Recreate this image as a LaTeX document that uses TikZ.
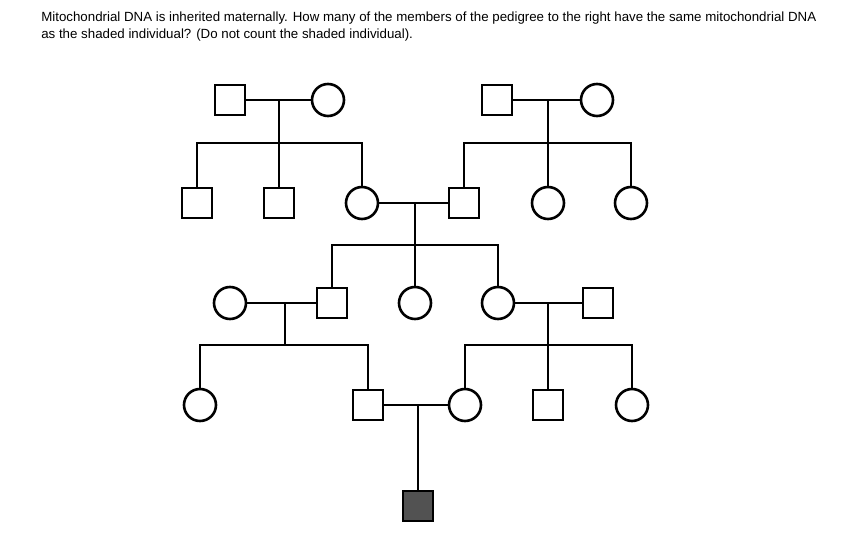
\documentclass[tikz,border=0pt]{standalone}
\usepackage{fontspec}
\setmainfont{Liberation Sans}
\begin{document}
\begin{tikzpicture}[x=1pt,y=-1pt,line width=2.6pt,
  m/.style={draw,line width=2.6pt,minimum size=30pt,inner sep=0pt,fill=white},
  f/.style={draw,line width=2.6pt,circle,minimum size=32pt,inner sep=0pt,fill=white},
  sh/.style={m,fill=black!68}]
\useasboundingbox (0,0) rectangle (851,537);
\node[anchor=north west,align=left,inner sep=0pt,font=\fontsize{13.3}{17}\selectfont] (q) at (40,11)
{Mitochondrial DNA is inherited maternally. How many of the members of the pedigree to the right have the same mitochondrial DNA\\as the shaded individual? (Do not count the shaded individual).};
% generation 1
\node[m] (a1) at (230,100) {}; \node[f] (a2) at (328,100) {};
\node[m] (b1) at (497,100) {}; \node[f] (b2) at (597,100) {};
% generation 2
\node[m] (c1) at (197,203) {}; \node[m] (c2) at (279,203) {}; \node[f] (c3) at (362,203) {};
\node[m] (d1) at (464,203) {}; \node[f] (d2) at (548,203) {}; \node[f] (d3) at (631,203) {};
% generation 3
\node[f] (e0) at (230,303) {};
\node[m] (e1) at (332,303) {}; \node[f] (e2) at (415,303) {}; \node[f] (e3) at (498,303) {};
\node[m] (e4) at (598,303) {};
% generation 4
\node[f] (g1) at (200,405) {}; \node[m] (g2) at (368,405) {};
\node[f] (g3) at (465,405) {}; \node[m] (g4) at (548,405) {}; \node[f] (g5) at (632,405) {};
% generation 5
\node[sh] (h1) at (418,506) {};
% marriages and descents
\coordinate (ma) at (279,100); \coordinate (ba) at (279,143);
\draw (a1) -- (a2); \draw (ma) -- (ba); \draw (c1.north) |- (ba) -| (c3.north); \draw (ba) -- (c2.north);
\coordinate (mb) at (548,100); \coordinate (bb) at (548,143);
\draw (b1) -- (b2); \draw (mb) -- (bb); \draw (d1.north) |- (bb) -| (d3.north); \draw (bb) -- (d2.north);
\coordinate (mc) at (415,203); \coordinate (bc) at (415,245);
\draw (c3) -- (d1); \draw (mc) -- (bc); \draw (e1.north) |- (bc) -| (e3.north); \draw (bc) -- (e2.north);
\coordinate (md) at (285,303); \coordinate (bd) at (285,345);
\draw (e0) -- (e1); \draw (md) -- (bd); \draw (g1.north) |- (bd) -| (g2.north);
\coordinate (me) at (548,303); \coordinate (be) at (548,345);
\draw (e3) -- (e4); \draw (me) -- (be); \draw (g3.north) |- (be) -| (g5.north); \draw (be) -- (g4.north);
\coordinate (mf) at (418,405);
\draw (g2) -- (g3); \draw (mf) -- (h1.north);
\end{tikzpicture}
\end{document}
